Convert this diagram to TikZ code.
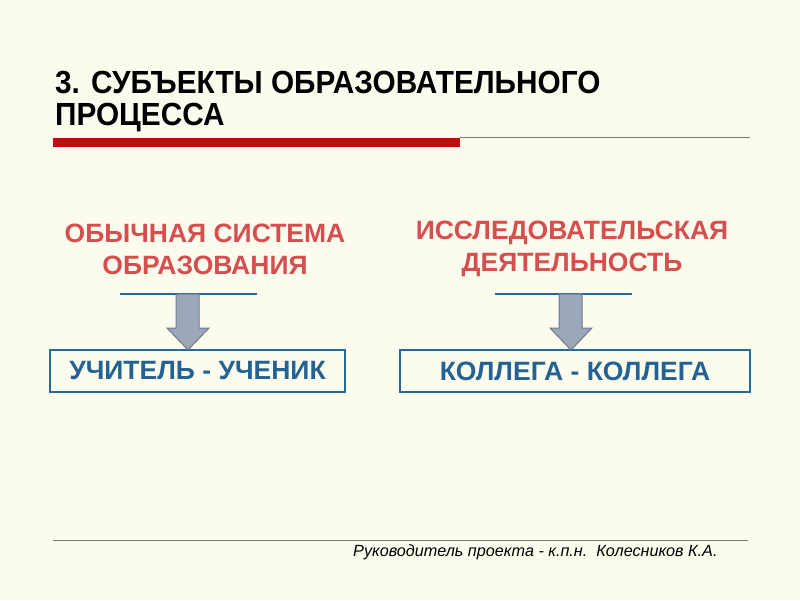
\documentclass[tikz,border=0pt]{standalone}
\usepackage{fontspec}
\setmainfont{Liberation Sans}
\definecolor{bgc}{RGB}{252,252,238}
\definecolor{barred}{RGB}{192,10,14}
\definecolor{headred}{RGB}{214,78,78}
\definecolor{boxblue}{RGB}{40,104,150}
\definecolor{txtblue}{RGB}{36,98,148}
\definecolor{arrfill}{RGB}{156,168,186}
\definecolor{arrline}{RGB}{110,124,142}
\definecolor{rulegray}{RGB}{120,120,120}
\tikzset{
  head/.style={text=headred, font=\fontsize{26.5}{32}\selectfont\bfseries, align=center, inner sep=0pt},
  pairbox/.style={draw=boxblue, line width=2.5pt, text=txtblue, font=\fontsize{26.5}{30}\selectfont\bfseries, inner sep=0pt},
  hline/.style={draw=boxblue, line width=1.8pt},
  blockarrow/.style={fill=arrfill, draw=arrline, line width=1pt},
}
\begin{document}
\begin{tikzpicture}[x=1pt,y=-1pt]
\fill[bgc] (0,0) rectangle (800,600);
\useasboundingbox (0,0) rectangle (800,600);
% title
\node[anchor=west, inner sep=0pt, align=left, font=\fontsize{32}{32}\selectfont\bfseries, xscale=0.93] (title) at (55,102) {3. СУБЪЕКТЫ ОБРАЗОВАТЕЛЬНОГО\\ПРОЦЕССА};
\fill[barred] (53,138) rectangle (460,147);
\draw[rulegray, line width=0.8pt] (460,137.5) -- (750,137.5);
% headings
\node[head] (h1) at (205,249) {ОБЫЧНАЯ СИСТЕМА\\ОБРАЗОВАНИЯ};
\node[head] (h2) at (572,249) {ИССЛЕДОВАТЕЛЬСКАЯ\\ДЕЯТЕЛЬНОСТЬ};
% boxes
\node[pairbox, minimum width=295pt, minimum height=42pt] (b1) at (197.5,371) {УЧИТЕЛЬ - УЧЕНИК};
\node[pairbox, minimum width=350pt, minimum height=42pt] (b2) at (575,371) {КОЛЛЕГА - КОЛЛЕГА};
% lines
\coordinate (l1a) at (120,294); \coordinate (l1b) at (257,294);
\coordinate (l2a) at (495,294); \coordinate (l2b) at (632,294);
\draw[hline] (l1a) -- (l1b);
\draw[hline] (l2a) -- (l2b);
% block arrows
\draw[blockarrow] (176,294) -- (199,294) -- (199,328) -- (209,328) -- (188,350) -- (167,328) -- (176,328) -- cycle;
\draw[blockarrow] (559,294) -- (582,294) -- (582,328) -- (592,328) -- (571,350) -- (550,328) -- (559,328) -- cycle;
% footer
\draw[rulegray, line width=0.8pt] (53,540) -- (748,540);
\node[anchor=base west, inner sep=0pt, font=\fontsize{16.2}{19}\selectfont\itshape] (foot) at (353,556) {Руководитель проекта - к.п.н.\ \ Колесников К.А.};
\end{tikzpicture}
\end{document}
